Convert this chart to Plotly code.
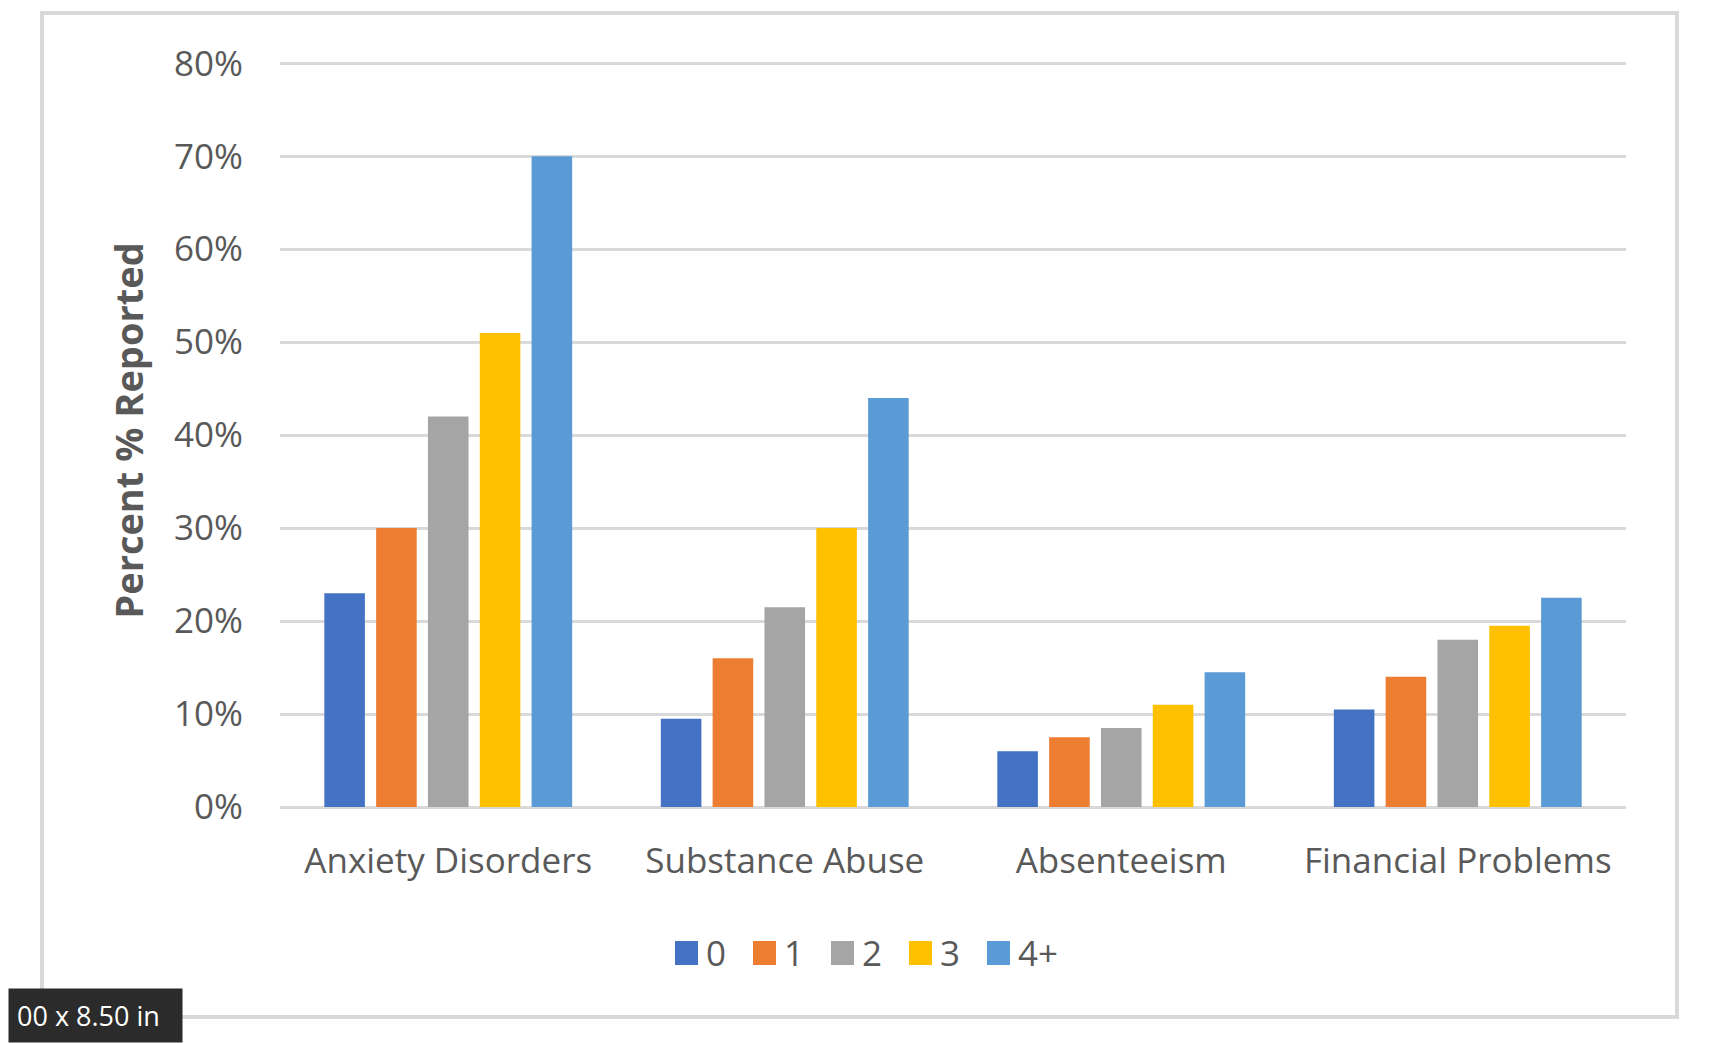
import plotly.graph_objects as go

# Data
categories = ['Anxiety Disorders', 'Substance Abuse', 'Absenteeism', 'Financial Problems']
series_names = ['0', '1', '2', '3', '4+']
values_0 = [23, 9.5, 6, 10.5]
values_1 = [30, 16, 7.5, 14]
values_2 = [42, 21.5, 8.5, 18]
values_3 = [51, 30, 11, 19.5]
values_4 = [70, 44, 14.5, 22.5]
y_ticks = [0, 10, 20, 30, 40, 50, 60, 70, 80]

colors = ['#4472C4', '#ED7D31', '#A5A5A5', '#FFC000', '#5B9BD5']
all_values = [values_0, values_1, values_2, values_3, values_4]

# page is 1722x1043, the html body adds an 8px margin
OFF = 8
W, H = 1722 - OFF, 1043 - OFF
YMAX = 0.81
px_per_unit = (807 - 63) / 0.8            # 0% at y=807, 80% at y=63 on the page
L, R = 280 - OFF, 1626 - OFF
B = 807 - OFF
T = round(B - YMAX * px_per_unit)

FONT = 'Open Sans'
TXT = '#595959'

fig = go.Figure()
for name, vals, col in zip(series_names, all_values, colors):
    fig.add_trace(go.Bar(x=categories, y=[v / 100 for v in vals],
                         name=name, marker=dict(color=col, line=dict(width=0))))

# helpers: page pixel -> paper coordinate
pw, ph = R - L, B - T
def px_x(x):
    return (x - OFF - L) / pw
def px_y(y):
    return (B - (y - OFF)) / ph

# outer chart frame
fig.add_shape(type='rect', xref='paper', yref='paper',
              x0=px_x(42), x1=px_x(1677), y0=px_y(1017), y1=px_y(13),
              line=dict(color='#D9D9D9', width=4), fillcolor='rgba(0,0,0,0)',
              layer='below')

# legend drawn by hand so the swatches match the big squares
for i, (name, col) in enumerate(zip(series_names, colors)):
    x0 = 675 + 78 * i
    fig.add_shape(type='rect', xref='paper', yref='paper',
                  x0=px_x(x0), x1=px_x(x0 + 23), y0=px_y(965), y1=px_y(941),
                  line=dict(width=0), fillcolor=col)
    fig.add_annotation(xref='paper', yref='paper', x=px_x(x0 + 29), y=px_y(952),
                       xanchor='left', yanchor='middle', text=name, showarrow=False,
                       font=dict(family=FONT, size=35, color=TXT))

# size tooltip at bottom-left of screenshot
fig.add_annotation(xref='paper', yref='paper', x=px_x(OFF), y=px_y(1043),
                   xanchor='left', yanchor='bottom', text='00 x 8.50 in  ',
                   showarrow=False, bgcolor='#2B2B2B', borderpad=8,
                   font=dict(family=FONT, size=27, color='white'))

fig.update_layout(
    width=W, height=H,
    margin=dict(l=L, r=W - R, t=T, b=H - B, autoexpand=False),
    paper_bgcolor='white', plot_bgcolor='white',
    barmode='group', bargap=0.23, bargroupgap=0.217,
    font=dict(family=FONT, size=35, color=TXT),
    showlegend=False,
)
fig.update_yaxes(range=[0, YMAX], tickvals=[t / 100 for t in y_ticks],
                 tickformat='.0%', showgrid=True, gridcolor='#D9D9D9', gridwidth=3,
                 zeroline=True, zerolinecolor='#D9D9D9', zerolinewidth=3,
                 showline=False, ticks='outside', ticklen=29,
                 tickcolor='rgba(0,0,0,0)', tickfont=dict(size=35, color=TXT),
                 title=dict(text='<b>Percent % Reported</b>', standoff=18,
                            font=dict(family=FONT, size=38, color=TXT)))
fig.update_xaxes(showgrid=False, showline=False, ticks='outside', ticklen=23,
                 tickcolor='rgba(0,0,0,0)', tickfont=dict(size=35, color=TXT))

fig.write_html('out.html')
